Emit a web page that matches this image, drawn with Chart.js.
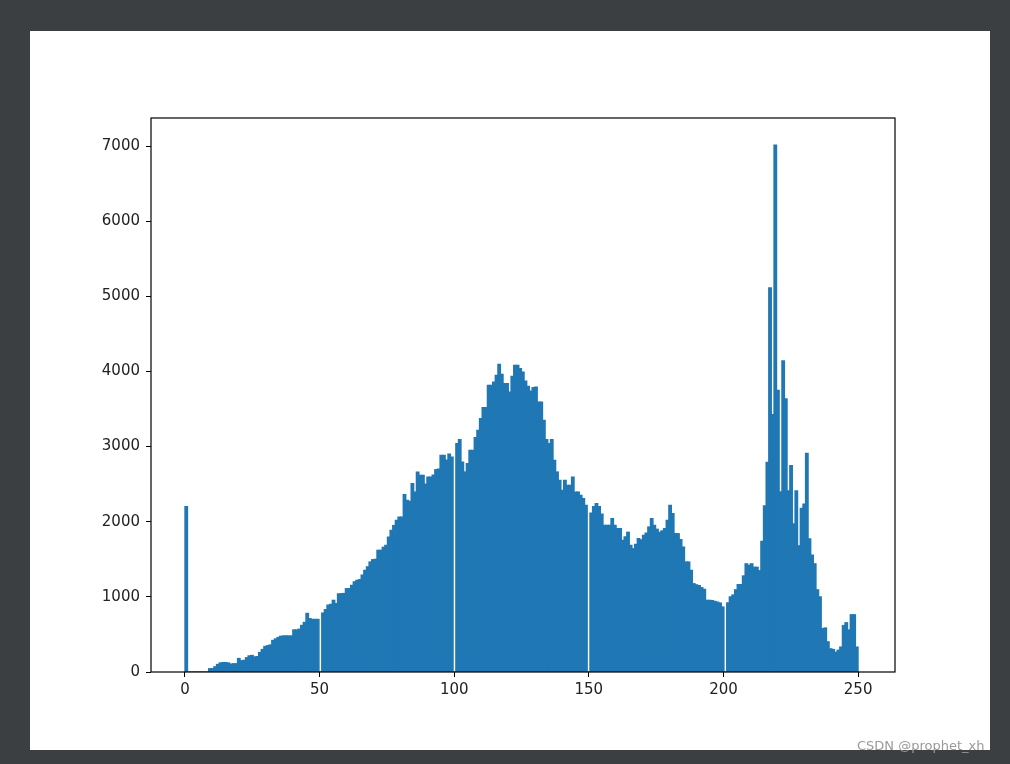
<!DOCTYPE html>
<html><head><meta charset="utf-8">
<script src="https://cdn.jsdelivr.net/npm/chart.js@4/dist/chart.umd.min.js"></script>
<style>
html,body{margin:0;padding:0;background:#3c3f41;}
#wrap{position:absolute;left:0;top:0;width:1010px;height:764px;}
#wm{position:absolute;left:857px;top:738px;font:13px "DejaVu Sans",sans-serif;color:#9a9a9a;}
</style></head><body>
<div id="wrap"><canvas id="c" width="1010" height="764"></canvas></div>
<div id="wm">CSDN @prophet_xh</div>
<script>
// histogram counts for 256 bins spanning 0..250
const counts = [
2200,0,0,0,0,0,0,0,0,44,
44,70,100,120,125,125,120,105,110,110,
180,150,155,190,215,220,200,205,260,300,
340,350,360,420,440,460,475,480,480,480,
480,560,560,570,620,660,780,710,700,700,
700,0,785,830,890,900,954,910,1040,1042,
1045,1109,1110,1153,1200,1220,1230,1290,1353,1400,
1464,1495,1500,1620,1620,1660,1686,1797,1885,1950,
2018,2063,2063,2360,2285,2270,2506,2395,2662,2617,
2617,2500,2595,2595,2620,2693,2700,2883,2883,2820,
2900,2861,0,3039,3092,2795,2662,2773,2950,2950,
3119,3216,3371,3518,3518,3815,3815,3859,3948,4094,
3961,3837,3837,3726,3935,4081,4081,4037,3992,3873,
3800,3740,3784,3793,3593,3593,3349,3092,3039,3092,
2817,2662,2550,2418,2551,2484,2484,2595,2395,2395,
2350,2307,2218,0,2116,2200,2240,2200,2100,1952,
1952,1952,2040,1952,1907,1907,1752,1800,1860,1686,
1641,1700,1774,1760,1819,1850,1930,2040,1952,1900,
1860,1880,1907,2018,2218,2107,1841,1841,1761,1663,
1464,1464,1353,1175,1160,1150,1122,1100,954,954,
950,940,930,918,865,0,920,1000,1025,1094,
1163,1163,1279,1440,1420,1440,1394,1394,1348,1740,
2211,2789,5111,3426,7013,3749,2396,4141,3634,2410,
2747,1971,2410,1680,2179,2235,2909,1773,1556,1440,
1094,1000,577,586,402,309,300,263,290,332,
619,656,559,762,762,332
];
const binMin = 0, binMax = 250;
const xTicks = [0,50,100,150,200,250];
const yTicks = [0,1000,2000,3000,4000,5000,6000,7000];

const nb = counts.length, bw = (binMax-binMin)/nb;
const pts = counts.map((v,i)=>({x: binMin+(i+0.5)*bw, y: v}));

const bg = {id:'bg', beforeDraw(ch){const c=ch.ctx;c.save();c.fillStyle='#3c3f41';c.fillRect(0,0,1010,764);c.fillStyle='#fff';c.fillRect(30,31,960,719);c.restore();},
  afterDraw(ch){const a=ch.chartArea,c=ch.ctx;c.save();c.strokeStyle='#000';c.lineWidth=1.2;c.strokeRect(a.left,a.top,a.right-a.left,a.bottom-a.top);c.restore();}};
const font={family:'"DejaVu Sans", sans-serif', size:15};
new Chart(document.getElementById('c'),{
  type:'bar',
  data:{datasets:[{data:pts, backgroundColor:'#1f77b4', borderWidth:0, inflateAmount:0.6, barPercentage:1, categoryPercentage:1}]},
  options:{responsive:false, animation:false, devicePixelRatio:1,
    layout:{padding:{left:0,right:115,top:118,bottom:0}},
    plugins:{legend:{display:false},tooltip:{enabled:false}},
    scales:{
      x:{type:'linear', min:-12.6, max:263.7, offset:false,
        afterBuildTicks:s=>{s.ticks=xTicks.map(v=>({value:v}));},
        afterFit:s=>{s.height=92;},
        grid:{drawOnChartArea:false, drawTicks:true, tickLength:5, color:'#000', offset:false},
        border:{display:false},
        ticks:{color:'#222', font, padding:4, maxRotation:0, autoSkip:false, callback:v=>String(v)}},
      y:{min:0, max:7373,
        afterBuildTicks:s=>{s.ticks=yTicks.map(v=>({value:v}));},
        afterFit:s=>{s.width=151;},
        grid:{drawOnChartArea:false, drawTicks:true, tickLength:5, color:'#000'},
        border:{display:false},
        ticks:{color:'#222', font, padding:6, autoSkip:false, callback:v=>String(v)}}
    }},
  plugins:[bg]
});
</script></body></html>
